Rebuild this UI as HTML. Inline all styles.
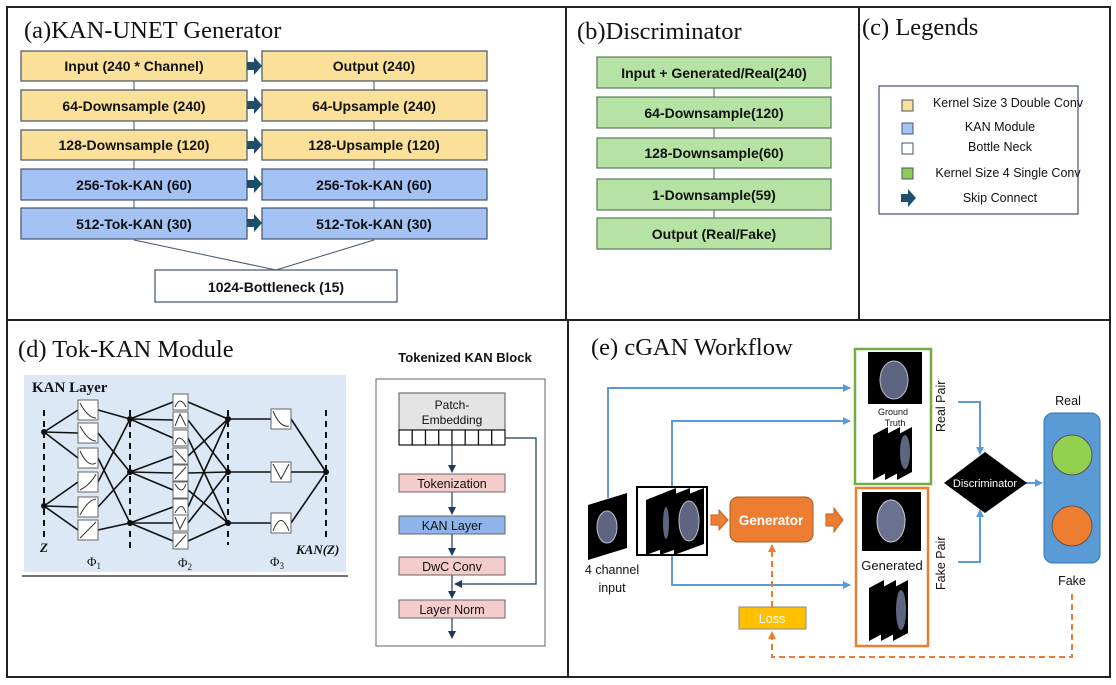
<!DOCTYPE html>
<html><head><meta charset="utf-8"><style>
html,body{margin:0;padding:0;background:#fff}
svg{display:block}
.t{font-family:"Liberation Serif",serif;fill:#111}
.s{font-family:"Liberation Sans",sans-serif;fill:#111}
</style></head><body>
<svg width="1116" height="685" viewBox="0 0 1116 685" xmlns="http://www.w3.org/2000/svg">
<defs>
<marker id="ab" markerWidth="8" markerHeight="8" refX="7" refY="4" orient="auto" markerUnits="userSpaceOnUse"><path d="M0,0 L8,4 L0,8 z" fill="#5b9bd5"/></marker>
<marker id="ak" markerWidth="8" markerHeight="8" refX="7" refY="4" orient="auto" markerUnits="userSpaceOnUse"><path d="M0,0 L8,4 L0,8 z" fill="#1f3a5a"/></marker>
<marker id="ao" markerWidth="8" markerHeight="8" refX="7" refY="4" orient="auto" markerUnits="userSpaceOnUse"><path d="M0,0 L8,4 L0,8 z" fill="#ed7d31"/></marker>
<g id="skip"><path d="M0,-4 L7,-4 L7,-9 L15,0 L7,9 L7,4 L0,4 z" fill="#1f4e69"/></g>
</defs>

<!-- frame -->
<rect x="7" y="7" width="1103" height="670" fill="none" stroke="#222" stroke-width="2"/>
<line x1="7" y1="320" x2="1110" y2="320" stroke="#222" stroke-width="2"/>
<line x1="566" y1="7" x2="566" y2="320" stroke="#222" stroke-width="2"/>
<line x1="859" y1="7" x2="859" y2="320" stroke="#222" stroke-width="2"/>
<line x1="568" y1="320" x2="568" y2="677" stroke="#222" stroke-width="2"/>

<!-- (a) -->
<text x="24" y="38" class="t" font-size="24.5">(a)KAN-UNET Generator</text>
<g stroke="#44546a" stroke-width="1">
<line x1="134" y1="81" x2="134" y2="208"/><line x1="374" y1="81" x2="374" y2="208"/>
<line x1="134" y1="240" x2="276" y2="270"/><line x1="374" y1="240" x2="276" y2="270"/>
</g>
<g stroke="#44546a" stroke-width="1.2">
<rect x="21" y="51" width="226" height="30" fill="#fbe09a"/><rect x="262" y="51" width="225" height="30" fill="#fbe09a"/>
<rect x="21" y="90" width="226" height="31" fill="#fbe09a"/><rect x="262" y="90" width="225" height="31" fill="#fbe09a"/>
<rect x="21" y="130" width="226" height="30" fill="#fbe09a"/><rect x="262" y="130" width="225" height="30" fill="#fbe09a"/>
<rect x="21" y="169" width="226" height="31" fill="#a4c2f4"/><rect x="262" y="169" width="225" height="31" fill="#a4c2f4"/>
<rect x="21" y="208" width="226" height="31" fill="#a4c2f4"/><rect x="262" y="208" width="225" height="31" fill="#a4c2f4"/>
<rect x="155" y="270" width="242" height="32" fill="#fff"/>
</g>
<g font-size="14" font-weight="bold" text-anchor="middle">
<text x="134" y="71" class="s">Input (240 * Channel)</text><text x="374" y="71" class="s">Output (240)</text>
<text x="134" y="111" class="s">64-Downsample (240)</text><text x="374" y="111" class="s">64-Upsample (240)</text>
<text x="134" y="150" class="s">128-Downsample (120)</text><text x="374" y="150" class="s">128-Upsample (120)</text>
<text x="134" y="190" class="s">256-Tok-KAN (60)</text><text x="374" y="190" class="s">256-Tok-KAN  (60)</text>
<text x="134" y="229" class="s">512-Tok-KAN  (30)</text><text x="374" y="229" class="s">512-Tok-KAN  (30)</text>
<text x="276" y="292" class="s">1024-Bottleneck (15)</text>
</g>
<use href="#skip" x="247" y="66"/><use href="#skip" x="247" y="105"/><use href="#skip" x="247" y="145"/><use href="#skip" x="247" y="184"/><use href="#skip" x="247" y="223"/>

<!-- (b) -->
<text x="577" y="39" class="t" font-size="24.5">(b)Discriminator</text>
<line x1="714" y1="88" x2="714" y2="218" stroke="#44546a"/>
<g stroke="#5a7a5a" stroke-width="1.2" fill="#b6e3a3">
<rect x="597" y="57" width="234" height="31"/><rect x="597" y="97" width="234" height="31"/><rect x="597" y="138" width="234" height="30"/><rect x="597" y="179" width="234" height="31"/><rect x="597" y="218" width="234" height="31"/>
</g>
<g font-size="14" font-weight="bold" text-anchor="middle">
<text x="714" y="78" class="s">Input + Generated/Real(240)</text>
<text x="714" y="118" class="s">64-Downsample(120)</text>
<text x="714" y="158" class="s">128-Downsample(60)</text>
<text x="714" y="200" class="s">1-Downsample(59)</text>
<text x="714" y="239" class="s">Output (Real/Fake)</text>
</g>

<!-- (c) -->
<text x="862" y="35" class="t" font-size="24.5">(c) Legends</text>
<rect x="879" y="86" width="199" height="128" fill="#fff" stroke="#44546a" stroke-width="1.2"/>
<g stroke="#44546a" stroke-width="1">
<rect x="902" y="100" width="11" height="11" fill="#fbe09a"/>
<rect x="902" y="123" width="11" height="11" fill="#a4c2f4"/>
<rect x="902" y="143" width="11" height="11" fill="#fff"/>
<rect x="902" y="168" width="11" height="11" fill="#8fcc55"/>
</g>
<use href="#skip" x="901" y="198"/>
<g font-size="12.5" text-anchor="middle">
<text x="1008" y="107" class="s" fill="#444">Kernel Size 3 Double Conv</text>
<text x="1000" y="131" class="s" fill="#444">KAN Module</text>
<text x="1000" y="151" class="s" fill="#444">Bottle Neck</text>
<text x="1008" y="177" class="s" fill="#444">Kernel Size 4 Single Conv</text>
<text x="1000" y="202" class="s" fill="#444">Skip Connect</text>
</g>

<!-- (d) -->
<text x="18" y="357" class="t" font-size="24.5">(d) Tok-KAN Module</text>
<rect x="24" y="375" width="322" height="197" fill="#dce8f5"/>
<line x1="22" y1="576" x2="348" y2="576" stroke="#222" stroke-width="1.2"/>
<text x="32" y="392" font-family="Liberation Serif,serif" font-weight="bold" font-size="15" fill="#111">KAN Layer</text>
<g stroke="#111" stroke-width="2" stroke-dasharray="6,5">
<line x1="44" y1="410" x2="44" y2="540"/><line x1="130" y1="410" x2="130" y2="550"/><line x1="228" y1="410" x2="228" y2="545"/><line x1="326" y1="410" x2="326" y2="538"/>
</g>
<g stroke="#111" stroke-width="1.6">
<line x1="44" y1="432" x2="78" y2="410"/><line x1="44" y1="432" x2="78" y2="433"/><line x1="44" y1="432" x2="78" y2="458"/>
<line x1="44" y1="506" x2="78" y2="482"/><line x1="44" y1="506" x2="78" y2="507"/><line x1="44" y1="506" x2="78" y2="530"/>
<line x1="98" y1="410" x2="130" y2="419"/><line x1="98" y1="433" x2="130" y2="472"/><line x1="98" y1="458" x2="130" y2="523"/>
<line x1="98" y1="482" x2="130" y2="419"/><line x1="98" y1="507" x2="130" y2="472"/><line x1="98" y1="530" x2="130" y2="523"/>
<line x1="130" y1="419" x2="173" y2="402"/><line x1="130" y1="419" x2="173" y2="420"/><line x1="130" y1="419" x2="173" y2="438"/>
<line x1="130" y1="472" x2="173" y2="456"/><line x1="130" y1="472" x2="173" y2="473"/><line x1="130" y1="472" x2="173" y2="490"/>
<line x1="130" y1="523" x2="173" y2="507"/><line x1="130" y1="523" x2="173" y2="523"/><line x1="130" y1="523" x2="173" y2="541"/>
<line x1="188" y1="402" x2="228" y2="419"/><line x1="188" y1="420" x2="228" y2="472"/><line x1="188" y1="438" x2="228" y2="523"/>
<line x1="188" y1="456" x2="228" y2="419"/><line x1="188" y1="473" x2="228" y2="472"/><line x1="188" y1="490" x2="228" y2="523"/>
<line x1="188" y1="507" x2="228" y2="419"/><line x1="188" y1="523" x2="228" y2="472"/><line x1="188" y1="541" x2="228" y2="523"/>
<line x1="228" y1="419" x2="271" y2="419"/><line x1="228" y1="472" x2="271" y2="472"/><line x1="228" y1="523" x2="271" y2="523"/>
<line x1="291" y1="419" x2="326" y2="472"/><line x1="291" y1="472" x2="326" y2="472"/><line x1="291" y1="523" x2="326" y2="472"/>
</g>
<g fill="#111"><circle cx="44" cy="432" r="3"/><circle cx="44" cy="506" r="3"/><circle cx="130" cy="419" r="3"/><circle cx="130" cy="472" r="3"/><circle cx="130" cy="523" r="3"/><circle cx="228" cy="419" r="3"/><circle cx="228" cy="472" r="3"/><circle cx="228" cy="523" r="3"/><circle cx="326" cy="472" r="3"/></g>
<g fill="#fff" stroke="#666" stroke-width="1">
<rect x="78" y="400" width="20" height="20"/><rect x="78" y="423" width="20" height="20"/><rect x="78" y="448" width="20" height="20"/><rect x="78" y="472" width="20" height="20"/><rect x="78" y="497" width="20" height="20"/><rect x="78" y="520" width="20" height="20"/>
<rect x="173" y="394" width="15" height="16"/><rect x="173" y="412" width="15" height="16"/><rect x="173" y="430" width="15" height="16"/><rect x="173" y="448" width="15" height="16"/><rect x="173" y="465" width="15" height="16"/><rect x="173" y="482" width="15" height="16"/><rect x="173" y="499" width="15" height="16"/><rect x="173" y="515" width="15" height="16"/><rect x="173" y="533" width="15" height="16"/>
<rect x="271" y="409" width="20" height="20"/><rect x="271" y="462" width="20" height="20"/><rect x="271" y="513" width="20" height="20"/>
</g>
<g fill="none" stroke="#333" stroke-width="1">
<path d="M80,403 Q88,418 96,418"/><path d="M80,426 Q88,441 96,441"/><path d="M80,451 Q88,468 96,463"/><path d="M80,490 Q90,485 96,474"/><path d="M80,515 Q88,500 96,499"/><path d="M80,538 L96,522"/>
<path d="M175,407 Q180,395 186,407"/><path d="M175,426 L180,414 L186,426"/><path d="M175,444 Q178,432 186,444"/><path d="M175,450 L186,462"/><path d="M175,479 L186,467"/><path d="M175,484 Q182,496 186,484"/><path d="M175,513 Q182,500 186,513"/><path d="M175,517 L180,529 L186,517"/><path d="M175,547 L186,535"/>
<path d="M273,411 Q280,428 289,426"/><path d="M273,464 L281,479 L289,464"/><path d="M273,531 Q281,510 289,531"/>
</g>
<g font-family="Liberation Serif,serif" font-size="13" fill="#111">
<text x="40" y="552" font-weight="bold" font-style="italic">Z</text>
<text x="87" y="566">Φ<tspan font-size="9" dy="3">1</tspan></text>
<text x="178" y="567">Φ<tspan font-size="9" dy="3">2</tspan></text>
<text x="270" y="566">Φ<tspan font-size="9" dy="3">3</tspan></text>
<text x="296" y="554" font-weight="bold" font-style="italic">KAN(Z)</text>
</g>
<text x="465" y="362" class="s" font-size="13" font-weight="bold" text-anchor="middle">Tokenized KAN Block</text>
<rect x="376" y="379" width="169" height="267" fill="#fff" stroke="#666" stroke-width="1"/>
<rect x="399" y="393" width="106" height="37" fill="#e4e4e4" stroke="#555"/>
<text x="452" y="409" class="s" font-size="12" text-anchor="middle">Patch-</text>
<text x="452" y="424" class="s" font-size="12" text-anchor="middle">Embedding</text>
<g fill="#fff" stroke="#111" stroke-width="1.2">
<rect x="399" y="430" width="13.25" height="15"/><rect x="412.25" y="430" width="13.25" height="15"/><rect x="425.5" y="430" width="13.25" height="15"/><rect x="438.75" y="430" width="13.25" height="15"/><rect x="452" y="430" width="13.25" height="15"/><rect x="465.25" y="430" width="13.25" height="15"/><rect x="478.5" y="430" width="13.25" height="15"/><rect x="491.75" y="430" width="13.25" height="15"/>
</g>
<g stroke="#1f3a5a" stroke-width="1.2" fill="none">
<line x1="452" y1="445" x2="452" y2="472" marker-end="url(#ak)"/>
<line x1="452" y1="492" x2="452" y2="514" marker-end="url(#ak)"/>
<line x1="452" y1="534" x2="452" y2="555" marker-end="url(#ak)"/>
<line x1="452" y1="575" x2="452" y2="598" marker-end="url(#ak)"/>
<line x1="452" y1="618" x2="452" y2="638" marker-end="url(#ak)"/>
<polyline points="505,438 536,438 536,584 455,584" marker-end="url(#ak)"/>
</g>
<g stroke="#666" stroke-width="1">
<rect x="399" y="474" width="106" height="18" fill="#f4cccc"/>
<rect x="399" y="516" width="106" height="18" fill="#8fb4ea"/>
<rect x="399" y="557" width="106" height="18" fill="#f4cccc"/>
<rect x="399" y="600" width="106" height="18" fill="#f4cccc"/>
</g>
<g font-size="12.5" text-anchor="middle">
<text x="452" y="488" class="s">Tokenization</text>
<text x="452" y="530" class="s">KAN Layer</text>
<text x="452" y="571" class="s">DwC Conv</text>
<text x="452" y="614" class="s">Layer Norm</text>
</g>

<!-- (e) -->
<text x="591" y="355" class="t" font-size="24.5">(e) cGAN Workflow</text>
<g stroke="#5b9bd5" stroke-width="2" fill="none">
<polyline points="608,498 608,388 850,388" marker-end="url(#ab)"/>
<polyline points="672,487 672,421 850,421" marker-end="url(#ab)"/>
<polyline points="672,555 672,585 850,585" marker-end="url(#ab)"/>
<polyline points="958,402 980,402 980,454" marker-end="url(#ab)"/>
<polyline points="958,562 980,562 980,510" marker-end="url(#ab)"/>
<line x1="1024" y1="483" x2="1042" y2="483" marker-end="url(#ab)"/>
</g>
<g stroke="#ed7d31" stroke-width="2" fill="none" stroke-dasharray="6,4">
<polyline points="1072,594 1072,657 772,657 772,632" marker-end="url(#ao)"/>
<line x1="772" y1="607" x2="772" y2="545" marker-end="url(#ao)"/>
</g>
<polygon points="588,505 627,493 627,548 588,560" fill="#000"/>
<ellipse cx="607" cy="527" rx="10" ry="16" fill="#5d6580" stroke="#bbc" />
<rect x="637" y="487" width="70" height="68" fill="#fff" stroke="#000" stroke-width="2"/>
<polygon points="646,500 676,488 676,544 646,555" fill="#000"/>
<polygon points="660,500 690,488 690,544 660,555" fill="#000"/>
<polygon points="674,500 704,488 704,544 674,555" fill="#000"/>
<ellipse cx="689" cy="521" rx="10" ry="20" fill="#5d6580" stroke="#bbc"/>
<ellipse cx="666" cy="523" rx="3" ry="16" fill="#5d6580"/>
<text x="612" y="574" class="s" font-size="12.5" text-anchor="middle">4 channel</text>
<text x="612" y="592" class="s" font-size="12.5" text-anchor="middle">input</text>
<path d="M711,515 L719,515 L719,510 L728,520 L719,530 L719,525 L711,525 z" fill="#ed7d31" stroke="#c5601e"/>
<path d="M826,514 L834,514 L834,508 L843,520 L834,532 L834,526 L826,526 z" fill="#ed7d31" stroke="#c5601e"/>
<rect x="730" y="497" width="83" height="45" rx="8" fill="#ed7d31" stroke="#a9591f"/>
<text x="771" y="525" font-family="Liberation Sans,sans-serif" font-size="13.5" font-weight="bold" fill="#fff" text-anchor="middle">Generator</text>
<rect x="739" y="607" width="67" height="22" fill="#ffc000" stroke="#888"/>
<text x="772" y="623" font-family="Liberation Sans,sans-serif" font-size="12.5" fill="#fff" text-anchor="middle">Loss</text>
<rect x="855" y="349" width="76" height="135" fill="#fff" stroke="#70ad47" stroke-width="2.5"/>
<rect x="868" y="352" width="54" height="52" fill="#000"/>
<ellipse cx="894" cy="380" rx="14" ry="19" fill="#5d6580" stroke="#bbc"/>
<text x="893" y="415" class="s" font-size="9" text-anchor="middle" fill="#333">Ground</text>
<text x="895" y="426" class="s" font-size="9" text-anchor="middle" fill="#333">Truth</text>
<polygon points="873,435 888,427 888,472 873,480" fill="#000"/>
<polygon points="885,435 900,427 900,472 885,480" fill="#000"/>
<polygon points="897,435 912,427 912,472 897,480" fill="#000"/>
<ellipse cx="905" cy="452" rx="5" ry="17" fill="#5d6580"/>
<rect x="856" y="488" width="72" height="158" fill="#fff" stroke="#ed7d31" stroke-width="2.5"/>
<rect x="862" y="492" width="59" height="59" fill="#000"/>
<ellipse cx="891" cy="521" rx="14" ry="21" fill="#6b7290" stroke="#ccd"/>
<text x="892" y="570" class="s" font-size="13" text-anchor="middle">Generated</text>
<polygon points="869,588 884,580 884,633 869,641" fill="#000"/>
<polygon points="881,588 896,580 896,633 881,641" fill="#000"/>
<polygon points="893,588 908,580 908,633 893,641" fill="#000"/>
<ellipse cx="901" cy="610" rx="5" ry="20" fill="#5d6580"/>
<text transform="translate(945,432) rotate(-90)" class="s" font-size="12.5">Real Pair</text>
<text transform="translate(945,590) rotate(-90)" class="s" font-size="12.5">Fake Pair</text>
<polygon points="944,483 985,452 1027,483 985,513" fill="#000"/>
<text x="985" y="487" font-family="Liberation Sans,sans-serif" font-size="11" fill="#fff" text-anchor="middle">Discriminator</text>
<rect x="1044" y="413" width="56" height="150" rx="9" fill="#5b9bd5" stroke="#2e75b6"/>
<circle cx="1072" cy="455" r="20" fill="#92d050" stroke="#555"/>
<circle cx="1072" cy="526" r="20" fill="#ed7d31" stroke="#555"/>
<text x="1068" y="405" class="s" font-size="12.5" text-anchor="middle">Real</text>
<text x="1072" y="585" class="s" font-size="12.5" text-anchor="middle">Fake</text>
</svg>
</body></html>
